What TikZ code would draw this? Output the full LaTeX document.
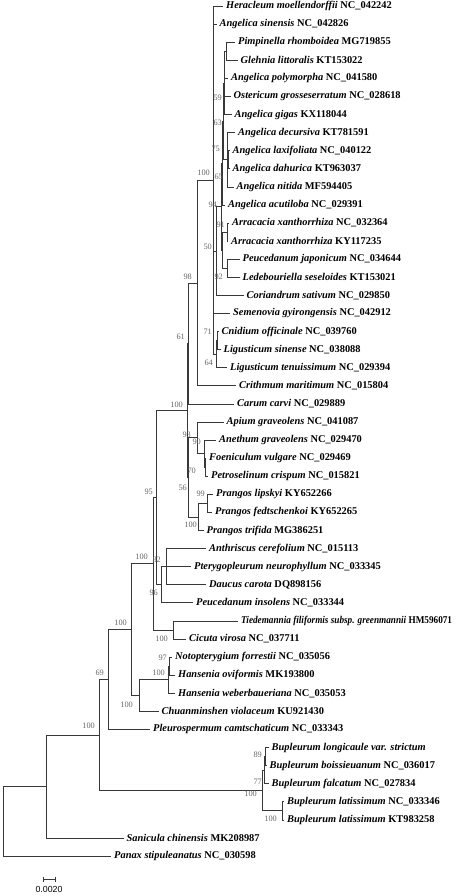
\documentclass[tikz,border=0pt]{standalone}
\usepackage{fontspec}
\setmainfont{Liberation Serif}
\newfontfamily\sansf{Liberation Sans}
\newcommand{\leafat}[5]{\coordinate (#1) at (#2,#3);\node[leaflabel] (#1t) at ([xshift=3pt]#1) {\textbf{\textit{#4}} \textbf{#5}};}
\begin{document}
\begin{tikzpicture}[x=1pt,y=-1pt,
  br/.style={draw=black!78,line width=0.65pt},
  leaflabel/.style={anchor=west,inner sep=0pt,font=\fontsize{10.4}{12}\selectfont},
  sup/.style={anchor=east,inner sep=0pt,text=black!60,font=\fontsize{8.3}{10}\selectfont}]
\useasboundingbox (0,0) rectangle (474,896);
% leaves
\leafat{L1}{223}{6.00}{Heracleum moellendorffii}{NC\_042242}
\leafat{L2}{216.5}{24.09}{Angelica sinensis}{NC\_042826}
\leafat{L3}{235}{42.17}{Pimpinella rhomboidea}{MG719855}
\leafat{L4}{237.5}{60.26}{Glehnia littoralis}{KT153022}
\leafat{L5}{228}{78.34}{Angelica polymorpha}{NC\_041580}
\leafat{L6}{230.5}{96.43}{Ostericum grosseserratum}{NC\_028618}
\leafat{L7}{231.5}{114.51}{Angelica gigas}{KX118044}
\leafat{L8}{235}{132.60}{Angelica decursiva}{KT781591}
\leafat{L9}{229.5}{150.68}{Angelica laxifoliata}{NC\_040122}
\leafat{L10}{229.5}{168.77}{Angelica dahurica}{KT963037}
\leafat{L11}{233.5}{186.85}{Angelica nitida}{MF594405}
\leafat{L12}{225}{204.94}{Angelica acutiloba}{NC\_029391}
\leafat{L13}{229}{223.02}{Arracacia xanthorrhiza}{NC\_032364}
\leafat{L14}{228}{241.11}{Arracacia xanthorrhiza}{KY117235}
\leafat{L15}{239.5}{259.19}{Peucedanum japonicum}{NC\_034644}
\leafat{L16}{239.5}{277.28}{Ledebouriella seseloides}{KT153021}
\leafat{L17}{243.5}{295.36}{Coriandrum sativum}{NC\_029850}
\leafat{L18}{230}{313.45}{Semenovia gyirongensis}{NC\_042912}
\leafat{L19}{218.5}{331.53}{Cnidium officinale}{NC\_039760}
\leafat{L20}{220.5}{349.62}{Ligusticum sinense}{NC\_038088}
\leafat{L21}{227}{367.70}{Ligusticum tenuissimum}{NC\_029394}
\leafat{L22}{236}{385.79}{Crithmum maritimum}{NC\_015804}
\leafat{L23}{234}{403.87}{Carum carvi}{NC\_029889}
\leafat{L24}{223.5}{421.96}{Apium graveolens}{NC\_041087}
\leafat{L25}{216}{440.04}{Anethum graveolens}{NC\_029470}
\leafat{L26}{206}{458.13}{Foeniculum vulgare}{NC\_029469}
\leafat{L27}{208}{476.21}{Petroselinum crispum}{NC\_015821}
\leafat{L28}{213}{494.30}{Prangos lipskyi}{KY652266}
\leafat{L29}{212}{512.38}{Prangos fedtschenkoi}{KY652265}
\leafat{L30}{203.5}{530.47}{Prangos trifida}{MG386251}
\leafat{L31}{206}{548.55}{Anthriscus cerefolium}{NC\_015113}
\leafat{L32}{191}{566.64}{Pterygopleurum neurophyllum}{NC\_033345}
\leafat{L33}{206}{584.72}{Daucus carota}{DQ898156}
\leafat{L34}{193}{602.81}{Peucedanum insolens}{NC\_033344}
\coordinate (L35) at (238,620.89);
\node[leaflabel] (L35t) at ([xshift=3pt]L35) {\scalebox{0.885}[1]{\textbf{\textit{Tiedemannia filiformis subsp. greenmannii}} \textbf{HM596071}}};
\leafat{L36}{186}{638.98}{Cicuta virosa}{NC\_037711}
\leafat{L37}{172}{657.06}{Notopterygium forrestii}{NC\_035056}
\leafat{L38}{175}{675.15}{Hansenia oviformis}{MK193800}
\leafat{L39}{175}{693.23}{Hansenia weberbaueriana}{NC\_035053}
\leafat{L40}{158.5}{711.32}{Chuanminshen violaceum}{KU921430}
\leafat{L41}{150}{729.40}{Pleurospermum camtschaticum}{NC\_033343}
\leafat{L42}{268.5}{747.49}{Bupleurum longicaule var. strictum}{}
\leafat{L43}{266.5}{765.57}{Bupleurum boissieuanum}{NC\_036017}
\leafat{L44}{268.5}{783.66}{Bupleurum falcatum}{NC\_027834}
\leafat{L45}{284}{801.74}{Bupleurum latissimum}{NC\_033346}
\leafat{L46}{284}{819.83}{Bupleurum latissimum}{KT983258}
\leafat{L47}{123.5}{837.91}{Sanicula chinensis}{MK208987}
\leafat{L48}{111}{856.00}{Panax stipuleanatus}{NC\_030598}
% internal nodes
\coordinate (nPG) at (226,51.22);
\coordinate (nAng2) at (224.5,82.87);
\coordinate (nLD) at (228,159.73);
\coordinate (nAng3) at (227,159.73);
\coordinate (nAng1) at (223.5,121.3);
\coordinate (nAng0) at (222.5,163.12);
\coordinate (nArr) at (227,232.07);
\coordinate (nPJ) at (227,268.24);
\coordinate (nAP) at (222.5,250.16);
\coordinate (n94) at (221.5,206.64);
\coordinate (n50) at (216,251.0);
\coordinate (n100u) at (213,180);
\coordinate (n71) at (217.5,340.58);
\coordinate (n64) at (216.5,354.14);
\coordinate (n98) at (197,282.9);
\coordinate (n61) at (188.5,343.38);
\coordinate (n70) at (205,467.17);
\coordinate (n90) at (204.5,453.6);
\coordinate (n93) at (197,437.78);
\coordinate (nPr99) at (207,503.34);
\coordinate (nPr100) at (198.5,516.9);
\coordinate (n56) at (188.5,477.34);
\coordinate (n100b) at (187,410.36);
\coordinate (nAD) at (166.5,566.64);
\coordinate (n82) at (162,566.64);
\coordinate (n96) at (161.5,584.72);
\coordinate (n95) at (156,497.54);
\coordinate (nTC) at (173,629.94);
\coordinate (n100c) at (153,563.74);
\coordinate (n97) at (169,666.1);
\coordinate (n100d) at (168,679.67);
\coordinate (n100e) at (139,695.5);
\coordinate (n100f) at (131,629.62);
\coordinate (n69) at (108,679.51);
\coordinate (n89) at (265.5,756.53);
\coordinate (n77) at (264.5,770.1);
\coordinate (nLat) at (282,810.79);
\coordinate (nBup) at (262,790.44);
\coordinate (n100g) at (99,734.98);
\coordinate (n100h) at (46,786.45);
\coordinate (root) at (3,821.2);
% branches
\foreach \p/\c in {root/n100h,root/L48,n100h/n100g,n100h/L47,n100g/n69,n100g/nBup,
  nBup/n77,nBup/nLat,n77/n89,n77/L44,n89/L42,n89/L43,nLat/L45,nLat/L46,
  n69/n100f,n69/L41,n100f/n100c,n100f/n100e,n100e/n100d,n100e/L40,n100d/n97,n100d/L39,
  n97/L37,n97/L38,n100c/n95,n100c/nTC,nTC/L35,nTC/L36,n95/n100b,n95/n96,
  n96/n82,n96/L34,n82/nAD,n82/L32,nAD/L31,nAD/L33,n100b/n61,n100b/n56,
  n56/n93,n56/nPr100,nPr100/nPr99,nPr100/L30,nPr99/L28,nPr99/L29,
  n93/L24,n93/n90,n90/L25,n90/n70,n70/L26,n70/L27,n61/n98,n61/L23,
  n98/n100u,n98/L22,n100u/L1,n100u/L2,n100u/n50,n100u/L18,n100u/n64,
  n64/n71,n64/L21,n71/L19,n71/L20,n50/n94,n50/L17,n94/nAng0,n94/nAP,
  nAP/nArr,nAP/nPJ,nArr/L13,nArr/L14,nPJ/L15,nPJ/L16,nAng0/nAng1,nAng0/L12,
  nAng1/nAng2,nAng1/nAng3,nAng2/nPG,nAng2/L5,nAng2/L6,nAng2/L7,nPG/L3,nPG/L4,
  nAng3/L8,nAng3/nLD,nAng3/L11,nLD/L9,nLD/L10}
  \draw[br] (\p) |- (\c);
% support values
\node[sup] (s59) at (222,98) {59};
\node[sup] (s63) at (222,123) {63};
\node[sup] (s75) at (220,149) {75};
\node[sup] (s65) at (223,177) {65};
\node[sup] (s100u) at (210,173) {100};
\node[sup] (s94) at (217,205) {94};
\node[sup] (s91) at (225,225) {91};
\node[sup] (s50) at (212,247) {50};
\node[sup] (s98) at (192,277) {98};
\node[sup] (s92) at (223,277) {92};
\node[sup] (s61) at (185,337) {61};
\node[sup] (s71) at (212,332) {71};
\node[sup] (s64) at (213,363) {64};
\node[sup] (s100b) at (183,405) {100};
\node[sup] (s93) at (191,435) {93};
\node[sup] (s90) at (201,442) {90};
\node[sup] (s70) at (196,471) {70};
\node[sup] (s56) at (187,488) {56};
\node[sup] (s99) at (205,494) {99};
\node[sup] (s95) at (153,492) {95};
\node[sup] (s100pr) at (197,525) {100};
\node[sup] (s100c) at (148,557) {100};
\node[sup] (s82) at (161,560) {82};
\node[sup] (s96) at (158,593) {96};
\node[sup] (s100f) at (127,623) {100};
\node[sup] (s100tc) at (168,639) {100};
\node[sup] (s97) at (167,658) {97};
\node[sup] (s100d) at (165,673) {100};
\node[sup] (s100e) at (133,705) {100};
\node[sup] (s69) at (104,673) {69};
\node[sup] (s100g) at (95,726) {100};
\node[sup] (s89) at (262,755) {89};
\node[sup] (s77) at (262,782) {77};
\node[sup] (s100bup) at (257,794) {100};
\node[sup] (s100lat) at (277,819) {100};
% scale bar
\coordinate (sbL) at (43,879);
\coordinate (sbR) at (55,879);
\draw[br] (sbL) -- (sbR);
\draw[br] ([yshift=2.5pt]sbL) -- ([yshift=-2.5pt]sbL);
\draw[br] ([yshift=2.5pt]sbR) -- ([yshift=-2.5pt]sbR);
\node[inner sep=0pt,font=\sansf\fontsize{8.8}{10}\selectfont] (sbt) at (49,889) {0.0020};
\end{tikzpicture}
\end{document}
